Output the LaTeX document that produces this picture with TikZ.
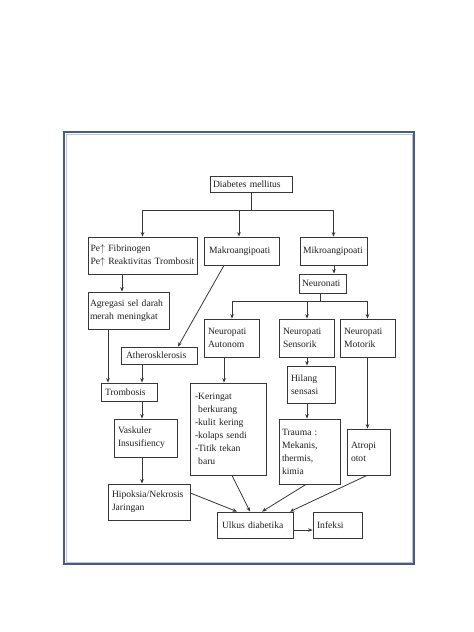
\documentclass[tikz,border=0pt]{standalone}
\usepackage{fontspec}
\setmainfont{Liberation Serif}
\usetikzlibrary{arrows.meta}
\definecolor{framecol}{RGB}{72,92,128}
\definecolor{linecol}{RGB}{55,55,55}
\definecolor{textcol}{RGB}{30,30,30}
\begin{document}
\begin{tikzpicture}[x=1pt,y=-1pt,
    box/.style={draw=linecol, line width=0.8pt, inner sep=0pt, text=textcol,
        font=\fontsize{9.6}{13}\selectfont, align=left},
    arr/.style={draw=linecol, line width=0.8pt, -{Stealth[length=4.5pt,width=3.6pt]}},
    ln/.style={draw=linecol, line width=0.8pt}]
    \useasboundingbox (0,0) rectangle (474,632);
    % frame
    \draw[framecol, line width=1.4pt] (64,132) rectangle (414,564);
    \draw[framecol!35, line width=0.5pt] (66,134) rectangle (412,562);
    % boxes
    \node[box, minimum width=82, minimum height=16, text width=76] (dm) at (251,184) {Diabetes mellitus};
    \node[box, minimum width=109, minimum height=37, text width=104] (pe) at (142.5,255.5) {Pe$\uparrow$ Fibrinogen\\Pe$\uparrow$ Reaktivitas Trombosit};
    \node[box, minimum width=75, minimum height=28, text width=65] (makro) at (241.5,251) {Makroangipoati};
    \node[box, minimum width=67, minimum height=28, text width=61] (mikro) at (333.5,251) {Mikroangipoati};
    \node[box, minimum width=47, minimum height=19, text width=41] (neuro) at (322.5,283.5) {Neuronati};
    \node[box, minimum width=81, minimum height=37, text width=77] (agregasi) at (128.5,310.5) {Agregasi sel darah\\merah meningkat};
    \node[box, minimum width=55, minimum height=38, text width=47] (autonom) at (231.5,338) {Neuropati\\ Autonom};
    \node[box, minimum width=55, minimum height=38, text width=47] (sensorik) at (306.5,338) {Neuropati\\Sensorik};
    \node[box, minimum width=55, minimum height=38, text width=47] (motorik) at (367.5,338) {Neuropati\\Motorik};
    \node[box, minimum width=76, minimum height=17, text width=66] (athero) at (159,355.5) {Atherosklerosis};
    \node[box, minimum width=56, minimum height=18, text width=48] (trombosis) at (129,392) {Trombosis};
    \node[box, minimum width=48, minimum height=37, text width=40] (hilang) at (311,384.5) {Hilang\\sensasi};
    \node[box, minimum width=76, minimum height=92, text width=66] (keringat) at (228,429) {-Keringat\\ \ berkurang\\-kulit kering\\-kolaps sendi\\-Titik tekan\\ \ baru};
    \node[box, minimum width=63, minimum height=38, text width=55] (vaskuler) at (145.5,438) {Vaskuler\\Insusifiency};
    \node[box, minimum width=61, minimum height=65, text width=55] (trauma) at (309.5,451.5) {Trauma :\\ Mekanis,\\ thermis,\\ kimia};
    \node[box, minimum width=43, minimum height=46, text width=35] (atropi) at (368.5,452) {Atropi\\otot};
    \node[box, minimum width=82, minimum height=36, text width=74] (hipoksia) at (149,502) {Hipoksia/Nekrosis\\Jaringan};
    \node[box, minimum width=76, minimum height=26, text width=66] (ulkus) at (255,525) {Ulkus diabetika};
    \node[box, minimum width=49, minimum height=26, text width=41] (infeksi) at (337.5,525) {Infeksi};
    % connectors
    \draw[ln] (dm.south) -- (dm.south |- 0,210) coordinate (top);
    \draw[ln] (142.5,210) -- (333.5,210);
    \draw[arr] (pe.north |- top) -- (pe.north);
    \draw[arr] (239,0 |- top) -- (239,0 |- makro.north);
    \draw[arr] (mikro.north |- top) -- (mikro.north);
    \draw[arr] (334,0 |- mikro.south) -- (334,0 |- neuro.north);
    \draw[ln] (320,0 |- neuro.south) -- (320,301) coordinate (mid);
    \draw[ln] (232,301) -- (367.5,301);
    \draw[arr] (232,301) -- (232,0 |- autonom.north);
    \draw[arr] (307,301) -- (307,0 |- sensorik.north);
    \draw[arr] (367.5,301) -- (motorik.north);
    \draw[arr] (122,0 |- pe.south) -- (122,0 |- agregasi.north);
    \draw[arr] (224,0 |- makro.south) -- (178,0 |- athero.north);
    \draw[arr] (108,0 |- agregasi.south) -- (108,0 |- trombosis.north);
    \draw[arr] (142,0 |- athero.south) -- (142,0 |- trombosis.north);
    \draw[arr] (307,0 |- sensorik.south) -- (307,0 |- hilang.north);
    \draw[arr] (224,0 |- autonom.south) -- (224,0 |- keringat.north);
    \draw[arr] (142,0 |- trombosis.south) -- (142,0 |- vaskuler.north);
    \draw[arr] (307,0 |- hilang.south) -- (307,0 |- trauma.north);
    \draw[arr] (367.5,0 |- motorik.south) -- (367.5,0 |- atropi.north);
    \draw[arr] (142,0 |- vaskuler.south) -- (142,0 |- hipoksia.north);
    \draw[arr] (hipoksia.east |- 0,493) -- (237,0 |- ulkus.north);
    \draw[arr] (232,0 |- keringat.south) -- (250,0 |- ulkus.north);
    \draw[arr] (306,0 |- trauma.south) -- (262,0 |- ulkus.north);
    \draw[arr] (367,0 |- atropi.south) -- (290,0 |- ulkus.north);
    \draw[arr] (ulkus.east |- 0,530) -- (infeksi.west |- 0,530);
\end{tikzpicture}
\end{document}
